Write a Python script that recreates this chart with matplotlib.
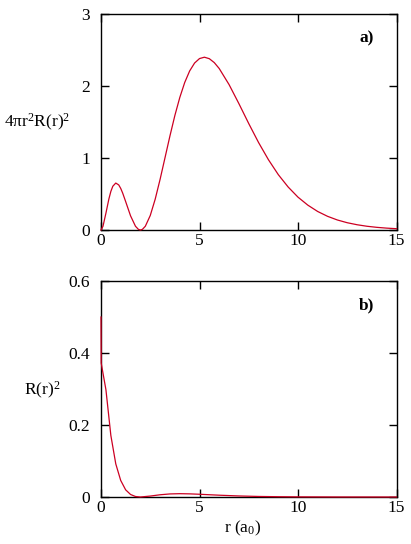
import matplotlib
matplotlib.use("Agg")
import matplotlib.pyplot as plt

# Panel a) radial distribution 4*pi*r^2*R(r)^2
r_a = [0, 0.1, 0.25, 0.4, 0.5, 0.6, 0.75, 0.9, 1.0, 1.1, 1.25, 1.5, 1.75, 1.9, 2.0,
       2.1, 2.25, 2.5, 2.75, 3.0, 3.25, 3.5, 3.75, 4.0, 4.25, 4.5, 4.75, 5.0, 5.25,
       5.5, 5.75, 6.0, 6.5, 7.0, 7.5, 8.0, 8.5, 9.0, 9.5, 10.0, 10.5, 11.0, 11.5,
       12.0, 12.5, 13.0, 13.5, 14.0, 14.5, 15.0]
p_a = [0, 0.051, 0.234, 0.431, 0.536, 0.608, 0.652, 0.626, 0.578, 0.513, 0.396, 0.197,
       0.052, 0.0085, 0.0, 0.0085, 0.052, 0.201, 0.427, 0.704, 1.005, 1.307, 1.591,
       1.841, 2.049, 2.209, 2.319, 2.381, 2.400, 2.379, 2.325, 2.243, 2.020, 1.755,
       1.478, 1.214, 0.976, 0.769, 0.597, 0.456, 0.345, 0.257, 0.190, 0.139, 0.101,
       0.073, 0.052, 0.037, 0.026, 0.018]

# Panel b) R(r)^2
r_b = [0, 0.01, 0.25, 0.5, 0.75, 1.0, 1.25, 1.5, 1.75, 2.0, 2.5, 3.0, 3.5, 4.0, 4.5,
       5.0, 6.0, 7.0, 8.0, 9.0, 10.0, 12.0, 15.0]
p_b = [0.5, 0.372, 0.298, 0.171, 0.092, 0.046, 0.020, 0.007, 0.0014, 0.0, 0.0026,
       0.0062, 0.0085, 0.0092, 0.0087, 0.0076, 0.0050, 0.0029, 0.0015, 0.0008,
       0.0004, 0.0001, 0.0]

x_ticks = [0, 5, 10, 15]
ya_ticks = [0, 1, 2, 3]
yb_ticks = [0, 0.2, 0.4, 0.6]
yb_labels = ["0", "0.2", "0.4", "0.6"]

plt.rcParams['font.family'] = ['Liberation Serif', 'DejaVu Serif']
plt.rcParams['mathtext.fontset'] = 'custom'
plt.rcParams['mathtext.rm'] = 'Liberation Serif'
plt.rcParams['mathtext.it'] = 'Liberation Serif'

W, H = 411, 544
fig = plt.figure(figsize=(W / 100, H / 100), dpi=100)
color = '#cc0022'
FS = 12.5

def style(ax):
    ax.tick_params(direction='in', length=6, width=1.0, top=True, right=True,
                   labelsize=FS, colors='black')
    ax.tick_params(axis='x', pad=2)
    ax.tick_params(axis='y', pad=8)
    for s in ax.spines.values():
        s.set_linewidth(1.0)

ax1 = fig.add_axes([101 / W, 1 - 230 / H, 295.5 / W, 216 / H])
ax1.plot(r_a, p_a, color=color, lw=0.9, clip_on=False, zorder=5)
ax1.set_xlim(0, 15)
ax1.set_ylim(0, 3)
ax1.set_xticks(x_ticks)
ax1.set_yticks(ya_ticks)
style(ax1)
ax1.text(0.9, 0.885, 'a)', transform=ax1.transAxes, fontsize=FS,
         fontweight='bold', ha='center', va='center')
fig.text(37 / W, 1 - 122 / H, r'4$\pi$r$^2$R(r)$^2$', fontsize=FS,
         ha='center', va='center')

ax2 = fig.add_axes([101 / W, 1 - 497 / H, 295.5 / W, 216 / H])
ax2.plot(r_b, p_b, color=color, lw=0.9, clip_on=False, zorder=5)
ax2.set_xlim(0, 15)
ax2.set_ylim(0, 0.6)
ax2.set_xticks(x_ticks)
ax2.set_yticks(yb_ticks)
ax2.set_yticklabels(yb_labels)
style(ax2)
ax2.text(0.9, 0.885, 'b)', transform=ax2.transAxes, fontsize=FS,
         fontweight='bold', ha='center', va='center')
fig.text(42 / W, 1 - 390 / H, r'R(r)$^2$', fontsize=FS, ha='center', va='center')
fig.text(243 / W, 1 - 528 / H, r'r (a$_0$)', fontsize=FS, ha='center', va='center')

fig.savefig('out.png', dpi=100)
